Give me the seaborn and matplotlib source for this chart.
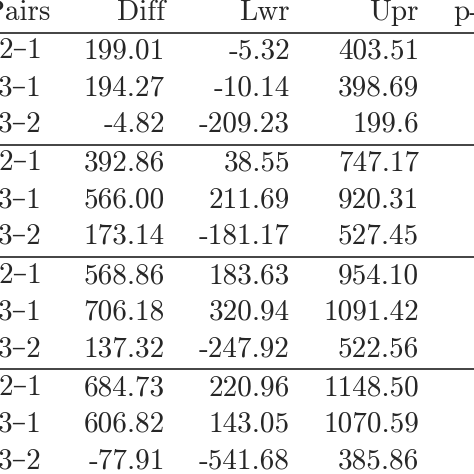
#table of Tukey pairwise comparisons, cropped view

import matplotlib
matplotlib.use("Agg")
import matplotlib.pyplot as plt
import seaborn as sns

pairs = ["2–1", "3–1", "3–2"] * 4
diff = ["199.01", "194.27", "-4.82", "392.86", "566.00", "173.14",
        "568.86", "706.18", "137.32", "684.73", "606.82", "-77.91"]
lwr = ["-5.32", "-10.14", "-209.23", "38.55", "211.69", "-181.17",
       "183.63", "320.94", "-247.92", "220.96", "143.05", "-541.68"]
upr = ["403.51", "398.69", "199.6", "747.17", "920.31", "527.45",
       "954.10", "1091.42", "522.56", "1148.50", "1070.59", "385.86"]
header = ["Pairs", "Diff", "Lwr", "Upr", "p-"]

sns.set_theme(style="white")
plt.rcParams['font.family'] = ['cmr10', 'DejaVu Serif']
plt.rcParams['axes.unicode_minus'] = False

fig = plt.figure(figsize=(4.74, 4.74), dpi=100)
ax = fig.add_axes([0, 0, 1, 1])
ax.set_xlim(0, 474)
ax.set_ylim(474, 0)
ax.axis("off")

fs = 21
# header row, right aligned columns
col_right = [50, 165, 290, 419]
ax.text(col_right[0], 13, header[0], ha="right", va="center", fontsize=fs)
for x, h in zip(col_right[1:], header[1:4]):
    ax.text(x, 13, h, ha="right", va="center", fontsize=fs)
ax.text(453, 13, header[4], ha="left", va="center", fontsize=fs)

row_y = [51, 88, 124, 163, 200, 236, 276, 312, 349, 388, 424, 461]
for i, y in enumerate(row_y):
    ax.text(-2, y, pairs[i], ha="left", va="center", fontsize=fs)
    ax.text(col_right[1], y, diff[i], ha="right", va="center", fontsize=fs)
    ax.text(col_right[2], y, lwr[i], ha="right", va="center", fontsize=fs)
    ax.text(col_right[3], y, upr[i], ha="right", va="center", fontsize=fs)

# group separators
for y in [32.5, 144.5, 256.5, 368.5]:
    ax.axhline(y, color="#222222", lw=1.2)

fig.savefig("out.png", dpi=100, facecolor="white")
